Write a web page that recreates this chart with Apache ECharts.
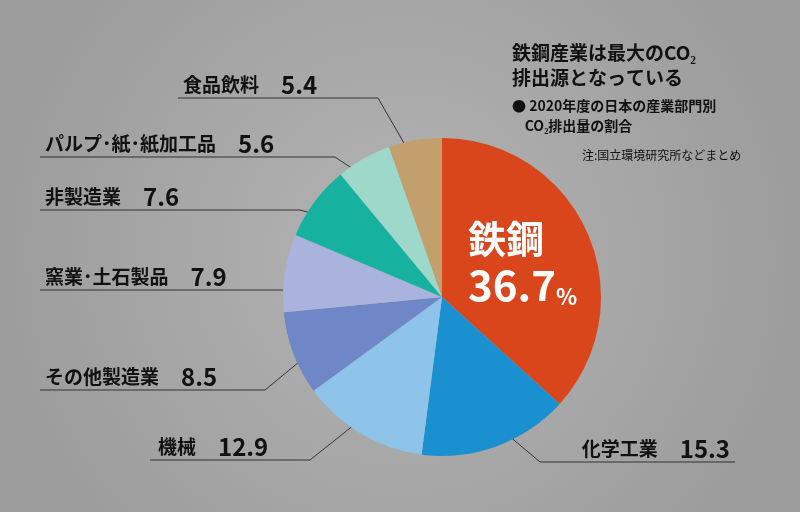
<!DOCTYPE html>
<html><head><meta charset="utf-8">
<script src="https://cdn.jsdelivr.net/npm/echarts@6/dist/echarts.min.js"></script>
<style>html,body{margin:0;padding:0;}#c{width:800px;height:512px;}</style>
</head><body><div id="c"></div>
<script>
const categories = ['鉄鋼','化学工業','機械','その他製造業','窯業･土石製品','非製造業','パルプ･紙･紙加工品','食品飲料'];
const values = [36.7,15.3,12.9,8.5,7.9,7.6,5.6,5.4];
const colors = ['#d9461b','#1b90d0','#8ec4ea','#6f87c6','#a9b3dd','#17b29f','#9ed8cb','#c29f6d'];
const place = [
  null,
  {x:730, y:462, ex:540, align:'right', lineEnd:735},
  {x:158, y:460, ex:310, align:'left', lineStart:150},
  {x:45, y:390, ex:265, align:'left', lineStart:40},
  {x:45, y:290, ex:285, align:'left', lineStart:40},
  {x:45, y:210, ex:300, align:'left', lineStart:40},
  {x:45, y:157, ex:335, align:'left', lineStart:40},
  {x:183, y:98, ex:378, align:'left', lineStart:178}
];
const cx = 442, cy = 297, R = 159;
const total = values.reduce((a,b)=>a+b,0);
const mids = []; let acc = 0;
values.forEach(v=>{ mids.push(acc+v/2); acc+=v; });
const F = '"Noto Sans CJK JP"';
const chart = echarts.init(document.getElementById('c'));
chart.setOption({
  backgroundColor: {type:'radial', x:0.5, y:0.5, r:0.8, colorStops:[{offset:0,color:'#b4b4b4'},{offset:1,color:'#9c9c9c'}]},
  graphic: [
    {type:'text', left:512, top:40, style:{text:'鉄鋼産業は最大のCO₂\n排出源となっている', font:'bold 19px "Noto Sans CJK JP"', fill:'#111', lineHeight:25}},
    {type:'text', left:512, top:96, style:{text:'● 2020年度の日本の産業部門別\n    CO₂排出量の割合', font:'bold 14px "Noto Sans CJK JP"', fill:'#111', lineHeight:20}},
    {type:'text', left:582, top:149, style:{text:'注:国立環境研究所などまとめ', font:'12px "Noto Sans CJK JP"', fill:'#111'}}
  ],
  series: [{
    type:'pie', center:[cx,cy], radius:R, startAngle:90, clockwise:true,
    animation:false, silent:true, z:1,
    data: categories.map((n,i)=>({name:n, value:values[i], itemStyle:{color:colors[i]},
      label: i===0 ? {position:'inside', width:200, overflow:'none', formatter:'{a|鉄鋼}\n{b|36.7}{c|%}', rich:{
        a:{fontSize:38, fontWeight:'bold', fontFamily:F, color:'#fff', lineHeight:46},
        b:{fontSize:42, fontWeight:'bold', fontFamily:F, color:'#fff', lineHeight:46},
        c:{fontSize:22, fontWeight:'bold', fontFamily:F, color:'#fff', lineHeight:46, verticalAlign:'bottom'}}} : undefined,
      labelLine: i===0 ? {show:false} : undefined
    })),
    label: {show:true, overflow:'none', formatter: p => '{n|'+p.name+'}{s|}{v|'+p.value.toFixed(1)+'}',
      rich:{n:{fontSize:19, fontWeight:'bold', fontFamily:F, color:'#111'}, s:{width:22}, v:{fontSize:24, fontWeight:'bold', fontFamily:F, color:'#111'}}},
    labelLine: {show:true, lineStyle:{color:'#333', width:1}},
    labelLayout: function(p){
      const i = p.dataIndex;
      if (i===0) return {x:468, y:262, align:'left', verticalAlign:'middle'};
      const pl = place[i];
      const ang = (90 - 360*mids[i]/total) * Math.PI/180;
      const k = 0.8;
      const px = cx + R*k*Math.cos(ang), py = cy - R*k*Math.sin(ang);
      const far = pl.align==='left' ? pl.lineStart : pl.lineEnd;
      return {x:pl.x, y:pl.y-1, align:pl.align, verticalAlign:'bottom',
        labelLinePoints:[[px,py],[pl.ex,pl.y],[far,pl.y]]};
    }
  }]
});
</script></body></html>
